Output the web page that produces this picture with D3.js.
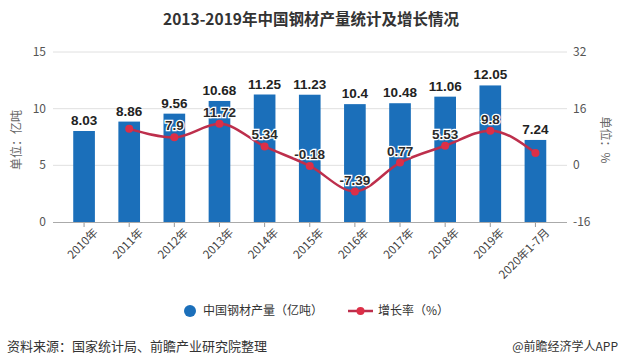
<!DOCTYPE html>
<html>
<head>
<meta charset="utf-8">
<script src="https://cdn.jsdelivr.net/npm/d3@7/dist/d3.min.js"></script>
<style>
  body { margin: 0; background: #fff; }
  svg { display: block; font-family: "Noto Sans CJK SC", "Noto Sans", sans-serif; }
</style>
</head>
<body>
<div id="chart"></div>
<script>
// =========================
// DATA
// =========================
const categories = ["2010年", "2011年", "2012年", "2013年", "2014年", "2015年",
    "2016年", "2017年", "2018年", "2019年", "2020年1-7月"];
const output = [8.03, 8.86, 9.56, 10.68, 11.25, 11.23, 10.4, 10.48, 11.06, 12.05, 7.24];
// growth rate (%), 2010 has no value; 2011 and 2020 points have no label in the picture
const growth = [null, 10.3, 7.9, 11.72, 5.34, -0.18, -7.39, 0.77, 5.53, 9.8, 3.5];
const growthLabelShown = [false, false, true, true, true, true, true, true, true, true, false];
const leftTicks = [0, 5, 10, 15];
const rightTicks = [-16, 0, 16, 32];

const W = 622, H = 364;
const BLUE = "#1b6fba";
const LINE_RED = "#bd2f4c";
const DOT_RED = "#dc2f47";

const svg = d3.select("#chart")
    .append("svg")
    .attr("width", W)
    .attr("height", H);

// plot area
const gridLeft = 53, gridRight = 567;
const plotTop = 52, plotBottom = 222;

const x = d3.scaleBand()
    .domain(categories)
    .range([61.5, 558])
    .paddingInner(0.52)
    .paddingOuter(0.26);

const yL = d3.scaleLinear().domain([0, 15]).range([plotBottom, plotTop]);
const yR = d3.scaleLinear().domain([-16, 32]).range([plotBottom, plotTop]);

// =========================
// TITLE
// =========================
svg.append("text")
    .attr("x", W / 2)
    .attr("y", 25)
    .attr("text-anchor", "middle")
    .style("font-size", "15.5px")
    .style("font-weight", "bold")
    .style("fill", "#333")
    .text("2013-2019年中国钢材产量统计及增长情况");

// =========================
// GRID + AXES
// =========================
svg.append("g")
    .selectAll("line")
    .data(leftTicks.slice(1))
    .enter()
    .append("line")
    .attr("x1", gridLeft)
    .attr("x2", gridRight)
    .attr("y1", d => yL(d))
    .attr("y2", d => yL(d))
    .attr("stroke", "#e0e0e0")
    .attr("stroke-width", 1);

svg.append("g")
    .selectAll("text")
    .data(leftTicks)
    .enter()
    .append("text")
    .attr("x", 46)
    .attr("y", d => yL(d) + 4)
    .attr("text-anchor", "end")
    .style("font-size", "12px")
    .style("fill", "#555")
    .text(d => d);

svg.append("g")
    .selectAll("text")
    .data(rightTicks)
    .enter()
    .append("text")
    .attr("x", 573)
    .attr("y", d => yR(d) + 4)
    .attr("text-anchor", "start")
    .style("font-size", "12px")
    .style("fill", "#555")
    .text(d => d);

// axis titles
svg.append("text")
    .attr("transform", `translate(17,140) rotate(-90)`)
    .attr("text-anchor", "middle")
    .attr("dy", "0.35em")
    .style("font-size", "12px")
    .style("fill", "#666")
    .text("单位：亿吨");

svg.append("text")
    .attr("transform", `translate(605,140) rotate(90)`)
    .attr("text-anchor", "middle")
    .attr("dy", "0.35em")
    .style("font-size", "12px")
    .style("fill", "#666")
    .text("单位：%");

// x axis
const xAxis = svg.append("g")
    .attr("transform", `translate(0,${plotBottom})`)
    .call(d3.axisBottom(x).tickSize(5).tickSizeOuter(0));
xAxis.select(".domain").remove();
xAxis.selectAll(".tick line").attr("stroke", "#999");
xAxis.selectAll(".tick text")
    .attr("text-anchor", "end")
    .attr("dx", "0.2em")
    .attr("dy", "0.9em")
    .attr("transform", "rotate(-45)")
    .style("font-size", "11.5px")
    .style("font-family", "'Noto Sans CJK SC', sans-serif")
    .style("fill", "#444");

svg.append("line")
    .attr("x1", gridLeft)
    .attr("x2", gridRight)
    .attr("y1", plotBottom + 0.5)
    .attr("y2", plotBottom + 0.5)
    .attr("stroke", "#aaa");

// =========================
// BARS
// =========================
svg.append("g")
    .selectAll("rect")
    .data(output)
    .enter()
    .append("rect")
    .attr("x", (d, i) => x(categories[i]))
    .attr("y", d => yL(d))
    .attr("width", x.bandwidth())
    .attr("height", d => plotBottom - yL(d))
    .attr("fill", BLUE);

svg.append("g")
    .selectAll("text")
    .data(output)
    .enter()
    .append("text")
    .attr("x", (d, i) => x(categories[i]) + x.bandwidth() / 2)
    .attr("y", d => yL(d) - 6)
    .attr("text-anchor", "middle")
    .style("font-size", "13.5px")
    .style("font-weight", "bold")
    .style("font-family", "'Liberation Sans', Arial, sans-serif")
    .style("fill", "#222")
    .text(d => d);

// =========================
// LINE
// =========================
const pts = growth
    .map((v, i) => ({ v, i, cat: categories[i], show: growthLabelShown[i] }))
    .filter(d => d.v !== null);

const line = d3.line()
    .x(d => x(d.cat) + x.bandwidth() / 2)
    .y(d => yR(d.v))
    .curve(d3.curveMonotoneX);

svg.append("path")
    .datum(pts)
    .attr("d", line)
    .attr("fill", "none")
    .attr("stroke", LINE_RED)
    .attr("stroke-width", 2.5);

svg.append("g")
    .selectAll("circle")
    .data(pts)
    .enter()
    .append("circle")
    .attr("cx", d => x(d.cat) + x.bandwidth() / 2)
    .attr("cy", d => yR(d.v))
    .attr("r", 4)
    .attr("fill", DOT_RED);

svg.append("g")
    .selectAll("text")
    .data(pts.filter(d => d.show))
    .enter()
    .append("text")
    .attr("x", d => x(d.cat) + x.bandwidth() / 2)
    .attr("y", d => yR(d.v) - 7)
    .attr("text-anchor", "middle")
    .style("font-size", "13.5px")
    .style("font-weight", "bold")
    .style("font-family", "'Liberation Sans', Arial, sans-serif")
    .style("fill", "#2a2a2a")
    .style("stroke", "#fff")
    .style("stroke-width", "2.5px")
    .style("paint-order", "stroke")
    .text(d => d.v);

// =========================
// LEGEND
// =========================
const legend = svg.append("g");
legend.append("circle")
    .attr("cx", 190)
    .attr("cy", 311)
    .attr("r", 6)
    .attr("fill", BLUE);
legend.append("text")
    .attr("x", 203)
    .attr("y", 315)
    .style("font-size", "12px")
    .style("fill", "#333")
    .text("中国钢材产量（亿吨）");
legend.append("line")
    .attr("x1", 348)
    .attr("x2", 373)
    .attr("y1", 311)
    .attr("y2", 311)
    .attr("stroke", LINE_RED)
    .attr("stroke-width", 2.5);
legend.append("circle")
    .attr("cx", 360.5)
    .attr("cy", 311)
    .attr("r", 4)
    .attr("fill", DOT_RED);
legend.append("text")
    .attr("x", 378)
    .attr("y", 315)
    .style("font-size", "12px")
    .style("fill", "#333")
    .text("增长率（%）");

// =========================
// FOOTER
// =========================
svg.append("text")
    .attr("x", 7)
    .attr("y", 351)
    .style("font-size", "13px")
    .style("fill", "#333")
    .text("资料来源：国家统计局、前瞻产业研究院整理");

svg.append("text")
    .attr("x", 618)
    .attr("y", 351)
    .attr("text-anchor", "end")
    .style("font-size", "12px")
    .style("fill", "#333")
    .text("@前瞻经济学人APP");
</script>
</body>
</html>
